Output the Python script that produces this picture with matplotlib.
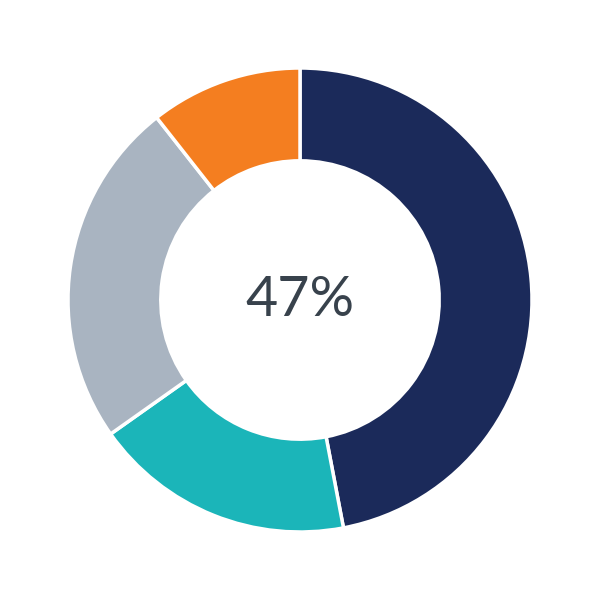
import matplotlib
matplotlib.use("Agg")
import matplotlib.pyplot as plt

labels = ["Navy", "Teal", "Gray", "Orange"]
shares = [47, 18.2, 24.2, 10.6]
colors = ["#1b2a5a", "#1bb5b9", "#a9b4c1", "#f47e20"]
center_label = "47%"

fig = plt.figure(figsize=(6, 6), dpi=100)
ax = fig.add_axes([0, 0, 1, 1])

ax.pie(shares, colors=colors, startangle=90, counterclock=False,
       radius=1.0,
       wedgeprops=dict(width=0.40, edgecolor="white", linewidth=2.5))

ax.text(0, 0, center_label, ha="center", va="center", fontsize=40,
        family="Lato", fontweight="normal", color="#38424c")

lim = 300 / 232
ax.set_xlim(-lim, lim)
ax.set_ylim(-lim, lim)
ax.set_aspect("equal")
ax.axis("off")

fig.savefig("out.png", dpi=100, facecolor="white")
